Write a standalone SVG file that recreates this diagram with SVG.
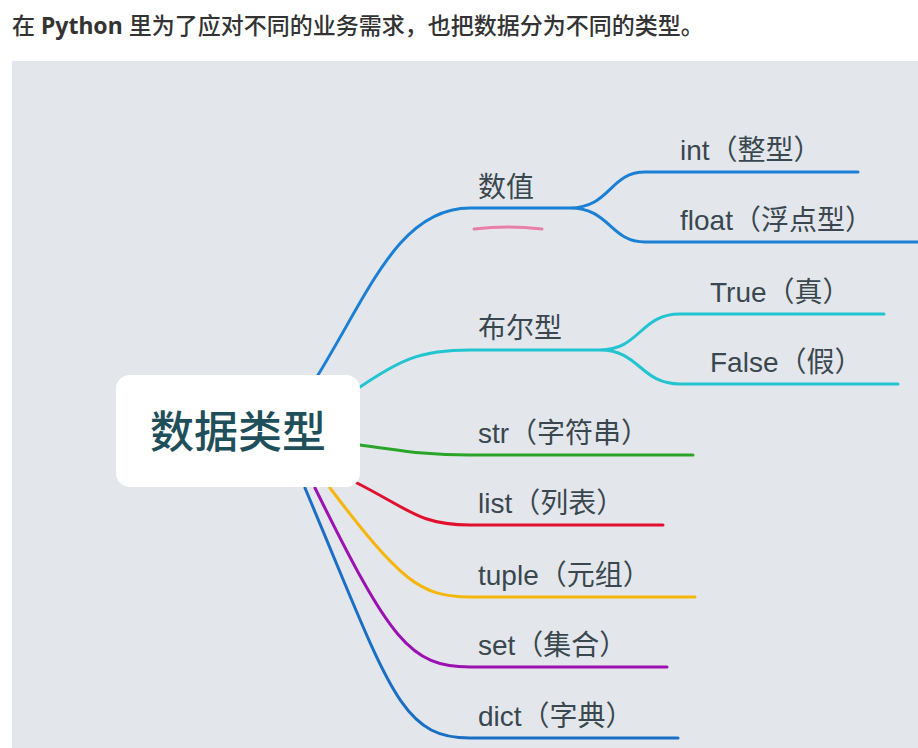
<svg xmlns="http://www.w3.org/2000/svg" width="918" height="748" viewBox="0 0 918 748">
<style>
.l{font-family:"Liberation Sans","Noto Sans CJK SC",sans-serif;font-size:28px;fill:#3a474f}
.c{fill:none;stroke-width:3;stroke-linecap:round}
</style>
<rect width="918" height="748" fill="#fff"/>
<text x="12" y="34" font-family="'Noto Sans','Noto Sans CJK SC',sans-serif" font-size="23" fill="#333" font-weight="500">在 <tspan font-weight="bold">Python</tspan> 里为了应对不同的业务需求，也把数据分为不同的类型。</text>
<rect x="12" y="61" width="906" height="687" fill="#e3e7ec"/>
<g id="connectors">
<path class="c" stroke="#1b7fd4" d="M318,375 C370,290 400,208 470,208 L570,208 C610,208 610,172 645,172 L858,172 M570,208 C610,208 610,242 645,242 L918,242"/>
<path d="M474,229 Q508,225 542,229" stroke="#e87fa8" stroke-width="3" fill="none" stroke-linecap="round"/>
<path class="c" stroke="#22c4d0" d="M360,387 C400,360 420,350 470,350 L600,350 C640,350 640,314 680,314 L884,314 M600,350 C640,350 640,384 680,384 L898,384"/>
<path class="c" stroke="#2aa52a" d="M360,445 C400,450 420,455 470,455 L693,455"/>
<path class="c" stroke="#e0102e" d="M357,483 C410,510 420,525 470,525 L663,525"/>
<path class="c" stroke="#f5b50a" d="M330,488 C400,580 420,597 470,597 L695,597"/>
<path class="c" stroke="#9b12b0" d="M315,488 C390,640 410,667 470,667 L667,667"/>
<path class="c" stroke="#1a6fc4" d="M305,488 C390,690 400,738 470,738 L678,738"/>
</g>
<g id="root"><rect x="116" y="375" width="244" height="112" rx="14" fill="#fff"/>
<text x="238" y="448" text-anchor="middle" font-family="'Noto Sans CJK SC',sans-serif" font-size="44" font-weight="500" fill="#1f4f5a">数据类型</text></g>
<g id="n-num"><text class="l" x="478" y="197">数值</text></g>
<g id="n-int"><text class="l" x="680" y="160">int（整型）</text></g>
<g id="n-float"><text class="l" x="680" y="230">float（浮点型）</text></g>
<g id="n-bool"><text class="l" x="478" y="338">布尔型</text></g>
<g id="n-true"><text class="l" x="710" y="302">True（真）</text></g>
<g id="n-false"><text class="l" x="710" y="372">False（假）</text></g>
<g id="n-str"><text class="l" x="478" y="443">str（字符串）</text></g>
<g id="n-list"><text class="l" x="478" y="513">list（列表）</text></g>
<g id="n-tuple"><text class="l" x="478" y="585">tuple（元组）</text></g>
<g id="n-set"><text class="l" x="478" y="655">set（集合）</text></g>
<g id="n-dict"><text class="l" x="478" y="726">dict（字典）</text></g>
</svg>
